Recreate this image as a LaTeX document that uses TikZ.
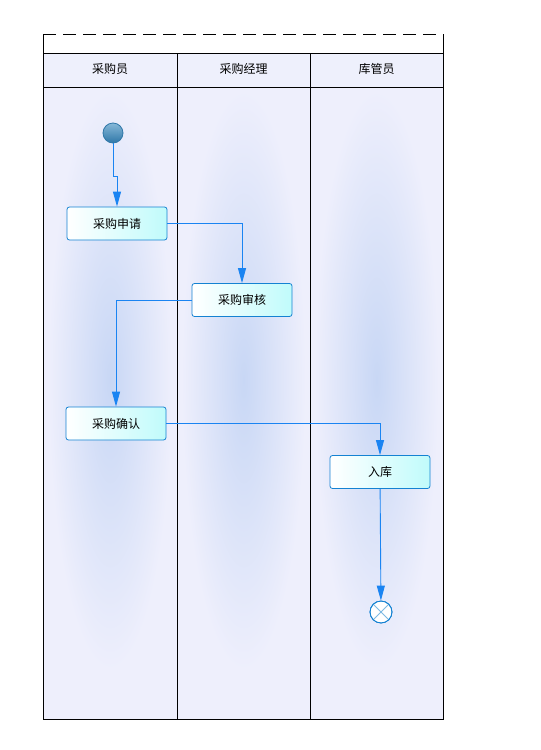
\documentclass[tikz,border=0pt]{standalone}
\usepackage{fontspec}
\setmainfont{Noto Sans CJK SC}
\usepackage{xcolor}
\usepackage{tikz}
\usetikzlibrary{calc}
\usetikzlibrary{arrows.meta}

\definecolor{lanebg}{HTML}{EEEFFC}
\definecolor{laneglow}{HTML}{C8D7F5}
\definecolor{headbg}{HTML}{EEF0FC}
\definecolor{flowblue}{HTML}{1A84F2}
\definecolor{boxline}{HTML}{1482D2}
\definecolor{boxfill}{HTML}{C0FBFB}
\definecolor{ballhi}{HTML}{86B8D8}
\definecolor{balllo}{HTML}{2F77A8}
\definecolor{endx}{HTML}{7DB9E2}

\begin{document}
\begin{tikzpicture}[x=1pt,y=-1pt]

		\tikzstyle{action} = [rectangle, rounded corners=2.5pt, draw=boxline, line width=0.8pt, minimum width=100pt, minimum height=33pt, inner sep=0pt, left color=white, right color=boxfill, font=\fontsize{12}{14}\selectfont]
		\tikzstyle{lanehead} = [font=\fontsize{12}{14}\selectfont]
		\tikzstyle{flow} = [draw=flowblue, line width=0.9pt, -{Triangle[width=8pt,length=15pt]}]
		\useasboundingbox (0,0) rectangle (541,750);
		%%Lanes
		\fill[headbg] (43,53) rectangle (443,87);
		\fill[lanebg] (43,87) rectangle (443,719);
		\foreach \cx/\xa/\xb in {110/43/177, 243.5/177/310, 376.5/310/443}{
			\begin{scope}
				\clip (\xa,87) rectangle (\xb,719);
				\shade[inner color=laneglow, outer color=lanebg] (\cx,380) ellipse (62 and 290);
			\end{scope}
		}
		\draw[dash pattern=on 13pt off 7pt, line width=0.8pt] (43,34) -- (443,34);
		\draw[line width=0.8pt] (43,34) -- (43,719) -- (443,719) -- (443,34);
		\draw[line width=0.8pt] (43,53) -- (443,53);
		\draw[line width=0.8pt] (43,87) -- (443,87);
		\draw[line width=0.8pt] (177,53) -- (177,719);
		\draw[line width=0.8pt] (310,53) -- (310,719);
		\node [lanehead](buyer) at (110,69) {采购员};
		\node [lanehead](manager) at (243.5,69) {采购经理};
		\node [lanehead](keeper) at (376.5,69) {库管员};
		%%Vertices
		\node [circle, minimum size=20pt, inner sep=0pt, draw=balllo, line width=0.8pt, top color=ballhi, bottom color=balllo](init) at (113,133) {};
		\node [action](apply) at (117,223.5) {采购申请};
		\node [action](review) at (242,300) {采购审核};
		\node [action](confirm) at (116,423.5) {采购确认};
		\node [action](store) at (380,472) {入库};
		\node [circle, minimum size=22pt, inner sep=0pt, draw=boxline, line width=0.8pt, fill=white](final) at (381,612) {};
		\draw[endx, line width=0.9pt] (final.north west) -- (final.south east);
		\draw[endx, line width=0.9pt] (final.north east) -- (final.south west);
		\draw[boxline, line width=0.8pt] (final) circle (11pt);
		%%Edges
		\draw[flow] (init) -- ($(init)+(0,43)$) -| (apply);
		\draw[flow] (apply) -| (review);
		\draw[flow] (review) -| (confirm);
		\draw[flow] (confirm) -| (store);
		\draw[flow] (store) -- (final);
	\end{tikzpicture}
\end{document}
